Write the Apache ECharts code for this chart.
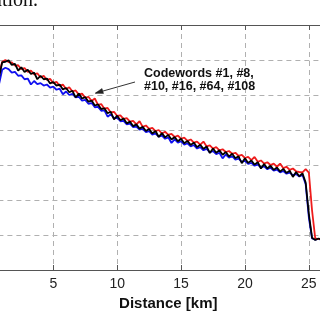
<!DOCTYPE html>
<html>
<head>
<meta charset="utf-8">
<script src="https://cdn.jsdelivr.net/npm/echarts@6/dist/echarts.min.js"></script>
<style>html,body{margin:0;padding:0;background:#fff;}#c{width:320px;height:320px;}</style>
</head>
<body>
<div id="c"></div>
<script>
// Distance along link [km]
const distance = [0.5,0.75,1.0,1.25,1.5,1.75,2.0,2.25,2.5,2.75,3.0,3.25,3.5,3.75,4.0,4.25,4.5,4.75,5.0,5.25,5.5,5.75,6.0,6.25,6.5,6.75,7.0,7.25,7.5,7.75,8.0,8.25,8.5,8.75,9.0,9.25,9.5,9.75,10.0,10.25,10.5,10.75,11.0,11.25,11.5,11.75,12.0,12.25,12.5,12.75,13.0,13.25,13.5,13.75,14.0,14.25,14.5,14.75,15.0,15.25,15.5,15.75,16.0,16.25,16.5,16.75,17.0,17.25,17.5,17.75,18.0,18.25,18.5,18.75,19.0,19.25,19.5,19.75,20.0,20.25,20.5,20.75,21.0,21.25,21.5,21.75,22.0,22.25,22.5,22.75,23.0,23.25,23.5,23.75,24.0,24.25,24.5,24.75,25.0,25.25,25.5,25.75,26.0,26.25,26.5,26.75,27.0];

const blueTrace = [3.0,5.3,5.72,5.78,5.74,5.64,5.66,5.55,5.56,5.45,5.47,5.3,5.4,5.31,5.34,5.27,5.3,5.21,5.24,5.15,5.18,5.02,5.1,5.0,5.03,4.93,4.95,4.84,4.86,4.75,4.77,4.65,4.66,4.55,4.56,4.38,4.45,4.34,4.35,4.25,4.26,4.16,4.18,4.08,4.1,4.01,4.03,3.94,3.97,3.87,3.9,3.81,3.84,3.75,3.79,3.63,3.73,3.64,3.68,3.58,3.62,3.53,3.57,3.47,3.51,3.42,3.46,3.36,3.4,3.31,3.35,3.19,3.3,3.21,3.25,3.15,3.18,3.09,3.12,3.03,3.06,2.98,3.01,2.93,2.96,2.88,2.92,2.84,2.87,2.79,2.83,2.75,2.78,2.71,2.74,2.67,2.72,2.45,1.5,0.9,0.87,0.89,0.86,0.88,0.87,0.89,0.87];

const redTrace = [3.4,5.6,5.95,6.0,5.94,5.93,5.84,5.85,5.74,5.77,5.66,5.7,5.59,5.62,5.5,5.55,5.43,5.46,5.34,5.38,5.26,5.3,5.17,5.22,5.1,5.13,5.01,5.04,4.92,4.95,4.83,4.9,4.72,4.74,4.61,4.63,4.5,4.52,4.4,4.42,4.32,4.34,4.24,4.26,4.16,4.25,4.09,4.13,4.03,4.06,3.97,4.0,3.9,3.95,3.86,3.89,3.8,3.84,3.75,3.78,3.69,3.73,3.64,3.67,3.58,3.67,3.53,3.56,3.47,3.51,3.42,3.45,3.37,3.4,3.32,3.35,3.26,3.29,3.2,3.23,3.14,3.23,3.09,3.13,3.04,3.08,3.0,3.04,2.95,3.04,2.91,2.95,2.86,2.9,2.82,2.8,2.79,2.88,2.78,1.7,0.9,0.88,0.9,0.87,0.89,0.88,0.9];

const blackTrace = [3.2,5.5,5.93,5.95,5.99,5.86,5.89,5.7,5.79,5.66,5.72,5.6,5.64,5.45,5.55,5.45,5.47,5.33,5.37,5.27,5.3,5.16,5.2,5.08,5.12,4.93,5.04,4.9,4.94,4.81,4.84,4.7,4.73,4.6,4.62,4.48,4.52,4.3,4.41,4.28,4.33,4.19,4.24,4.11,4.16,4.04,4.09,3.97,4.03,3.9,3.97,3.8,3.91,3.79,3.86,3.73,3.8,3.68,3.75,3.62,3.69,3.57,3.64,3.51,3.58,3.46,3.53,3.34,3.47,3.35,3.42,3.29,3.37,3.24,3.32,3.19,3.25,3.05,3.19,3.06,3.13,3.01,3.08,2.9,3.03,2.9,2.98,2.86,2.93,2.81,2.89,2.77,2.84,2.66,2.8,2.68,2.76,2.5,1.6,0.92,0.86,0.9,0.87,0.89,0.86,0.9,0.88];

const annotationLines = ['Codewords #1, #8,', '#10, #16, #64, #108'];
const xName = 'Distance [km]';
const captionFragment = 'ation.';

function pairs(vals) { return distance.map((d, i) => [d, vals[i]]); }

const chart = echarts.init(document.getElementById('c'), null, {renderer: 'canvas'});
const gridStyle = {show: true, lineStyle: {color: '#b0b0b0', type: [5, 4], width: 1}};
chart.setOption({
  animation: false,
  backgroundColor: '#ffffff',
  grid: {left: -10.6, right: -27.2, top: 25, bottom: 50, containLabel: false, outerBoundsMode: 'none'},
  xAxis: [{
    type: 'value', min: 0, max: 28, interval: 5,
    name: xName, nameLocation: 'middle', nameGap: 21,
    nameTextStyle: {fontFamily: 'Liberation Sans, Arial', fontWeight: 'bold', fontSize: 15, color: '#111'},
    axisLine: {show: true, lineStyle: {color: '#555', width: 1}},
    axisTick: {show: true, inside: true, length: 5, lineStyle: {color: '#555'}},
    axisLabel: {fontFamily: 'Liberation Sans, Arial', fontSize: 14, color: '#222', margin: 7},
    splitLine: gridStyle
  }, {
    type: 'value', min: 0, max: 28, interval: 5, position: 'top',
    axisLine: {show: true, lineStyle: {color: '#555', width: 1}},
    axisTick: {show: true, inside: true, length: 5, lineStyle: {color: '#555'}},
    axisLabel: {show: false}, splitLine: {show: false}
  }],
  yAxis: {
    type: 'value', min: 0, max: 7, interval: 1,
    axisLine: {show: true, lineStyle: {color: '#555'}},
    axisTick: {show: false}, axisLabel: {show: false},
    splitLine: gridStyle
  },
  series: [
    {type: 'line', data: pairs(blueTrace), showSymbol: false, symbol: 'none', lineStyle: {color: '#1010f0', width: 1.8}, z: 2},
    {type: 'line', data: pairs(redTrace), showSymbol: false, symbol: 'none', lineStyle: {color: '#ee1c1c', width: 1.8}, z: 3},
    {type: 'line', data: pairs(blackTrace), showSymbol: false, symbol: 'none', lineStyle: {color: '#000000', width: 1.8}, z: 4}
  ],
  graphic: [
    {type: 'text', left: -7, top: -9, style: {text: captionFragment, font: '20px "Liberation Serif", "Times New Roman", serif', fill: '#111'}},
    {type: 'text', left: 144, top: 67, z: 10, style: {text: annotationLines.join('\n'), font: 'bold 12.5px "Liberation Sans", Arial, sans-serif', fill: '#111', lineHeight: 13}},
    {type: 'polyline', z: 10, shape: {points: [[135, 82], [96, 93]]}, style: {stroke: '#333', lineWidth: 1, fill: null}},
    {type: 'polygon', z: 10, shape: {points: [[95, 93.3], [102, 88.5], [103.5, 93.5]]}, style: {fill: '#222', stroke: '#222', lineWidth: 0.5}}
  ]
});
</script>
</body>
</html>
